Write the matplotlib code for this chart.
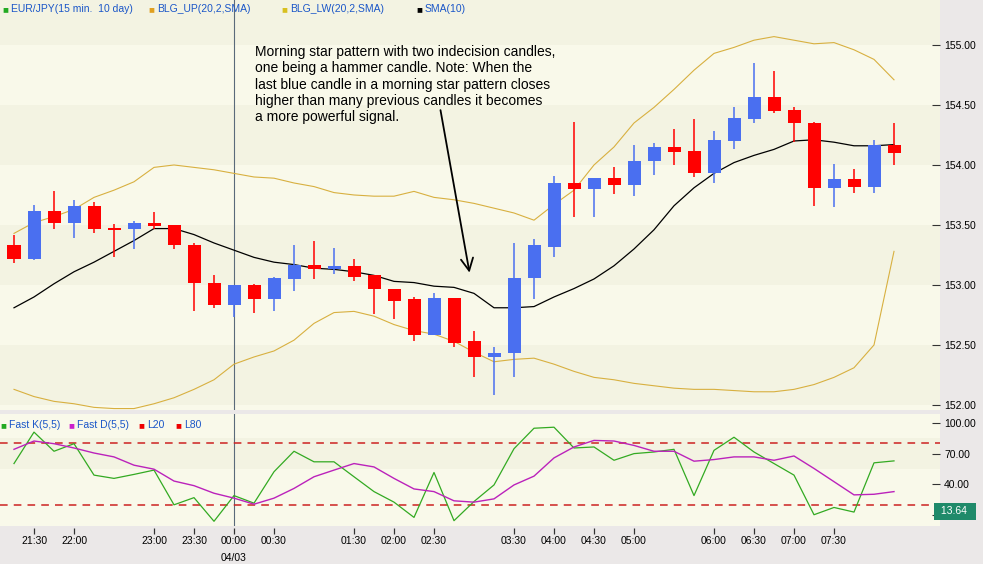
import matplotlib
matplotlib.use("Agg")
import matplotlib.pyplot as plt
import numpy as np

plt.rcParams['font.family'] = ['Liberation Sans', 'DejaVu Sans']

# ---- data ----
times = ["21:15","21:30","21:45","22:00","22:15","22:30","22:45","23:00","23:15","23:30","23:45","00:00",
         "00:15","00:30","00:45","01:00","01:15","01:30","01:45","02:00","02:15","02:30","02:45","03:00",
         "03:15","03:30","03:45","04:00","04:15","04:30","04:45","05:00","05:15","05:30","05:45","06:00",
         "06:15","06:30","06:45","07:00","07:15","07:30","07:45","08:00","08:15"]
opens  = [153.33,153.22,153.62,153.52,153.66,153.47,153.47,153.52,153.50,153.33,153.02,152.83,153.00,152.88,153.05,
          153.17,153.13,153.16,153.08,152.97,152.88,152.58,152.89,152.53,152.40,152.43,153.06,153.32,153.85,153.80,
          153.89,153.83,154.03,154.15,154.12,153.93,154.20,154.38,154.57,154.46,154.35,153.81,153.88,153.82,154.17]
closes = [153.22,153.62,153.52,153.66,153.47,153.46,153.52,153.49,153.33,153.02,152.83,153.00,152.88,153.06,153.17,
          153.13,153.16,153.07,152.97,152.87,152.58,152.89,152.52,152.40,152.43,153.06,153.33,153.85,153.80,153.89,
          153.83,154.03,154.15,154.11,153.93,154.21,154.39,154.57,154.45,154.35,153.81,153.88,153.82,154.17,154.10]
highs  = [153.42,153.67,153.78,153.71,153.69,153.51,153.53,153.61,153.50,153.35,153.08,153.00,153.01,153.07,153.33,
          153.37,153.31,153.22,153.08,152.97,152.90,152.93,152.89,152.62,152.48,153.35,153.38,153.91,154.36,153.89,
          153.98,154.17,154.18,154.30,154.38,154.28,154.48,154.85,154.78,154.48,154.36,154.01,153.97,154.21,154.35]
lows   = [153.18,153.21,153.47,153.39,153.43,153.23,153.30,153.47,153.30,152.78,152.81,152.73,152.77,152.78,152.95,
          153.05,153.09,153.03,152.76,152.72,152.53,152.58,152.48,152.23,152.08,152.23,152.88,153.23,153.57,153.57,
          153.76,153.74,153.92,154.00,153.90,153.85,154.13,154.35,154.43,154.19,153.66,153.65,153.77,153.77,154.00]
sma10  = [152.81,152.90,153.01,153.11,153.19,153.28,153.37,153.47,153.47,153.42,153.35,153.29,153.23,153.19,153.17,
          153.14,153.13,153.11,153.08,153.03,153.02,152.99,152.98,152.93,152.81,152.81,152.82,152.90,152.97,153.05,
          153.16,153.30,153.46,153.66,153.81,153.93,154.02,154.08,154.13,154.20,154.21,154.19,154.16,154.16,154.17]
blg_up = [153.43,153.52,153.57,153.63,153.73,153.79,153.86,153.98,154.00,153.98,153.96,153.93,153.90,153.89,153.85,
          153.82,153.77,153.75,153.74,153.74,153.78,153.73,153.71,153.68,153.64,153.60,153.54,153.67,153.79,154.00,
          154.15,154.35,154.48,154.63,154.79,154.93,154.98,155.04,155.07,155.04,155.01,155.02,154.96,154.88,154.71]
blg_lw = [152.13,152.07,152.03,152.01,151.98,151.97,151.97,152.01,152.06,152.13,152.21,152.34,152.40,152.45,152.54,
          152.68,152.77,152.78,152.74,152.67,152.62,152.59,152.53,152.44,152.36,152.38,152.39,152.34,152.28,152.23,
          152.21,152.18,152.16,152.14,152.13,152.13,152.12,152.11,152.11,152.13,152.17,152.23,152.31,152.50,153.28]
fast_k = [60.3,91.0,72.3,79.7,49.0,45.8,49.7,53.9,20.0,27.0,3.9,29.0,21.6,52.3,72.3,62.0,62.0,47.4,32.9,22.6,7.7,51.6,
          4.5,23.2,39.4,74.8,94.8,95.8,75.5,76.5,63.5,70.0,71.6,74.2,29.0,73.2,86.0,71.6,60.3,49.0,10.3,17.4,12.9,61.0,62.9]
fast_d = [74.2,82.3,79.7,75.5,70.6,66.8,58.7,54.8,43.2,38.7,31.3,26.5,20.6,26.5,36.0,47.4,53.9,60.3,57.0,45.8,35.5,32.9,
          23.9,22.6,25.8,39.4,48.0,65.8,76.5,82.9,82.3,78.0,72.3,72.3,62.6,64.2,66.8,66.8,63.5,67.7,55.5,42.6,29.7,30.3,32.9]
tick_labels = ["21:30","22:00","23:00","23:30","00:00","00:30","01:30","02:00","02:30","03:30","04:00","04:30",
               "05:00","06:00","06:30","07:00","07:30"]
price_ticks = [152.00,152.50,153.00,153.50,154.00,154.50,155.00]
stoch_ticks = [10,40,70,100]

W, H = 983, 564
fig = plt.figure(figsize=(W/100, H/100), dpi=100)
fig.patch.set_facecolor('#ebe8e8')
x = np.arange(len(times))
xlim = (-0.7, 46.3)
axr = 940/W

def fy(y):
    return 1 - y/H

ax = fig.add_axes([0, fy(410), axr, 410/H])
ax2 = fig.add_axes([0, fy(526), axr, (526-414)/H], sharex=ax)
for a in (ax, ax2):
    a.set_facecolor('#f9f9ea')
    for s in a.spines.values():
        s.set_visible(False)
    a.tick_params(axis='x', bottom=False, labelbottom=False)
    a.yaxis.tick_right()
    a.tick_params(axis='y', length=6, color='#333333', labelsize=7.5, pad=3, direction='in')

ax.set_xlim(*xlim)
ax.set_ylim(151.958, 155.375)
for lo in [152.0, 153.0, 154.0, 155.0]:
    ax.axhspan(lo, lo+0.5, color='#f3f3e2', zorder=0, lw=0)
ax.set_yticks(price_ticks)
ax.set_yticklabels([f"{v:.2f}" for v in price_ticks])

ax.plot(x, blg_up, color='#d8b040', lw=0.8, zorder=2)
ax.plot(x, blg_lw, color='#d8b040', lw=0.8, zorder=2)
ax.plot(x, sma10, color='black', lw=0.9, zorder=2)
ax.axvline(11, color='#5a6a7a', lw=0.8, zorder=1)
ax2.axvline(11, color='#5a6a7a', lw=0.8, zorder=1)

for i in range(len(times)):
    o, c = opens[i], closes[i]
    col = '#4a6ff0' if c >= o else '#ff0000'
    ax.vlines(x[i], lows[i], highs[i], color=col, lw=1.1, zorder=3)
    b = min(o, c); h = max(abs(c-o), 0.012)
    ax.bar(x[i], h, bottom=b, width=0.65, color=col, zorder=4, lw=0)

leg = [("EUR/JPY(15 min.  10 day)", '#22aa22'), ("BLG_UP(20,2,SMA)", '#e0a020'),
       ("BLG_LW(20,2,SMA)", '#d8c020'), ("SMA(10)", 'black')]
lx = [2, 148, 281, 416]
for (t, c), px in zip(leg, lx):
    fig.text(px/W, fy(9), "■", color=c, fontsize=7, va='center')
    fig.text((px+9)/W, fy(9), t, color='#1a56c8', fontsize=7.5, va='center')

ax.text(0.271, 0.89, "Morning star pattern with two indecision candles,\none being a hammer candle. Note: When the\n"
        "last blue candle in a morning star pattern closes\nhigher than many previous candles it becomes\na more powerful signal.",
        transform=ax.transAxes, fontsize=10, va='top', linespacing=1.2)
ax.annotate("", xy=(22.8, 153.08), xytext=(21.3, 154.48),
            arrowprops=dict(arrowstyle='->', color='black', lw=1.3, mutation_scale=22))

ax2.set_ylim(-0.7, 108.7)
ax2.axhspan(55, 85, color='#f3f3e2', zorder=0, lw=0)
ax2.set_yticks(stoch_ticks)
ax2.set_yticklabels([f"{v:.2f}" for v in stoch_ticks])
ax2.plot(x, fast_k, color='#33aa22', lw=0.9, zorder=3)
ax2.plot(x, fast_d, color='#bb22bb', lw=1.0, zorder=3)
ax2.axhline(80, color='#cc2222', lw=1.1, ls=(0, (5, 4)), zorder=2)
ax2.axhline(20, color='#cc2222', lw=1.1, ls=(0, (5, 4)), zorder=2)
ax2.text(0.998, 13.64, " 13.64  ", transform=ax2.get_yaxis_transform(), color='white', fontsize=7.5, va='center',
         bbox=dict(boxstyle='square,pad=0.35', fc='#1f8a6a', ec='none'), clip_on=False, zorder=10)
leg2 = [("Fast K(5,5)", '#22aa22'), ("Fast D(5,5)", '#cc22cc'), ("L20", '#ee0000'), ("L80", '#ee0000')]
lx2 = [0, 68, 138, 175]
for (t, c), px in zip(leg2, lx2):
    fig.text(px/W, fy(425), "■", color=c, fontsize=7, va='center')
    fig.text((px+9)/W, fy(425), t, color='#1a56c8', fontsize=7.5, va='center')

# x axis strip
ax3 = fig.add_axes([0, fy(564), axr, (564-526)/H], sharex=ax)
ax3.set_facecolor('#ebe8e8')
ax3.axis('off')
ax3.set_ylim(38, 0)
for t in tick_labels:
    p = times.index(t)
    ax3.vlines(p, 2, 8, color='#333333', lw=0.9)
    ax3.text(p, 15, t, fontsize=7.5, ha='center', va='center')
ax3.text(11, 32, "04/03", fontsize=7.5, ha='center', va='center')

fig.savefig("out.png", dpi=100, facecolor=fig.get_facecolor())
